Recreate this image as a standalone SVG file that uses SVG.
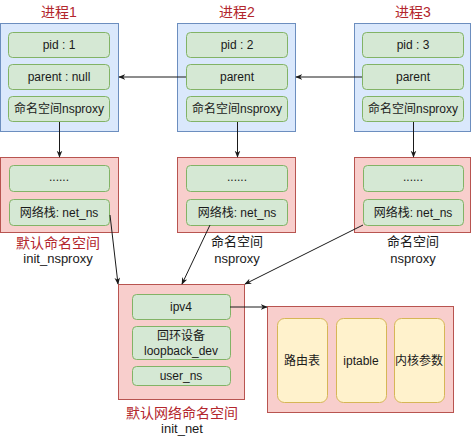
<svg xmlns="http://www.w3.org/2000/svg" width="474" height="438" viewBox="0 0 474 438">
<style>
.blue{fill:#dae8fc;stroke:#6c8ebf;stroke-width:1}
.pink{fill:#f8cecc;stroke:#b85450;stroke-width:1}
.green{fill:#d5e8d4;stroke:#82b366;stroke-width:1}
.yellow{fill:#fff2cc;stroke:#d6b656;stroke-width:1}
text{font-family:"Liberation Sans","Noto Sans CJK SC",sans-serif;text-anchor:middle;fill:#1a1a1a}
.t{font-size:12px}
.title{font-size:14px;fill:#b3262c}
.red{font-size:14px;fill:#b3262c}
.lbl{font-size:13px}
.conn line,.conn path{stroke:#1a1a1a;stroke-width:1;fill:none;marker-end:url(#ah)}
</style>
<defs>
<marker id="ah" viewBox="0 0 10 10" refX="9" refY="5" markerWidth="7" markerHeight="7" orient="auto" markerUnits="userSpaceOnUse">
<path d="M0,1 L10,5 L0,9 L3,5 Z" fill="#1a1a1a"/>
</marker>
</defs>
<rect width="474" height="438" fill="#ffffff"/>

<g id="proc1">
<text class="title" x="59" y="17">进程1</text>
<rect class="blue" x="0.5" y="23.5" width="118" height="108"/>
<rect class="green" x="8.5" y="32.5" width="101" height="25" rx="4"/>
<text class="t" x="59" y="49">pid : 1</text>
<rect class="green" x="8.5" y="64.5" width="101" height="25" rx="4"/>
<text class="t" x="59" y="81">parent : null</text>
<rect class="green" x="8.5" y="96.5" width="101" height="25" rx="4"/>
<text class="t" x="59" y="113">命名空间nsproxy</text>
</g>

<g id="proc2">
<text class="title" x="237" y="17">进程2</text>
<rect class="blue" x="177.5" y="23.5" width="118" height="108"/>
<rect class="green" x="186.5" y="32.5" width="101" height="25" rx="4"/>
<text class="t" x="237" y="49">pid : 2</text>
<rect class="green" x="186.5" y="64.5" width="101" height="25" rx="4"/>
<text class="t" x="237" y="81">parent</text>
<rect class="green" x="186.5" y="96.5" width="101" height="25" rx="4"/>
<text class="t" x="237" y="113">命名空间nsproxy</text>
</g>

<g id="proc3">
<text class="title" x="413" y="17">进程3</text>
<rect class="blue" x="354.5" y="23.5" width="116" height="108"/>
<rect class="green" x="362.5" y="32.5" width="101" height="25" rx="4"/>
<text class="t" x="413" y="49">pid : 3</text>
<rect class="green" x="362.5" y="64.5" width="101" height="25" rx="4"/>
<text class="t" x="413" y="81">parent</text>
<rect class="green" x="362.5" y="96.5" width="101" height="25" rx="4"/>
<text class="t" x="413" y="113">命名空间nsproxy</text>
</g>

<g id="ns1">
<rect class="pink" x="0.5" y="157.5" width="118" height="75"/>
<rect class="green" x="9.5" y="165.5" width="100" height="26" rx="4"/>
<text class="t" x="59" y="181">......</text>
<rect class="green" x="9.5" y="199.5" width="100" height="26" rx="4"/>
<text class="t" x="59" y="217">网络栈: net_ns</text>
<text class="red" x="58" y="248">默认命名空间</text>
<text class="lbl" x="58" y="263">init_nsproxy</text>
</g>

<g id="ns2">
<rect class="pink" x="177.5" y="157.5" width="118" height="75"/>
<rect class="green" x="186.5" y="165.5" width="101" height="26" rx="4"/>
<text class="t" x="237" y="181">......</text>
<rect class="green" x="186.5" y="199.5" width="101" height="26" rx="4"/>
<text class="t" x="237" y="217">网络栈: net_ns</text>
<text class="lbl" x="237" y="246">命名空间</text>
<text class="lbl" x="237" y="263">nsproxy</text>
</g>

<g id="ns3">
<rect class="pink" x="354.5" y="157.5" width="116" height="75"/>
<rect class="green" x="363.5" y="165.5" width="100" height="26" rx="4"/>
<text class="t" x="413" y="181">......</text>
<rect class="green" x="363.5" y="199.5" width="100" height="26" rx="4"/>
<text class="t" x="413" y="217">网络栈: net_ns</text>
<text class="lbl" x="413" y="246">命名空间</text>
<text class="lbl" x="413" y="263">nsproxy</text>
</g>

<g id="initnet">
<rect class="pink" x="118.5" y="284.5" width="126" height="115"/>
<rect class="green" x="132.5" y="294.5" width="98" height="25" rx="4"/>
<text class="t" x="181" y="311">ipv4</text>
<rect class="green" x="132.5" y="326.5" width="98" height="33" rx="4"/>
<text class="t" x="181" y="340">回环设备</text>
<text class="t" x="181" y="355">loopback_dev</text>
<rect class="green" x="132.5" y="366.5" width="98" height="19" rx="4"/>
<text class="t" x="181" y="380">user_ns</text>
<text class="red" x="182" y="418">默认网络命名空间</text>
<text class="lbl" x="182" y="433">init_net</text>
</g>

<g id="netstack">
<rect class="pink" x="267.5" y="306.5" width="186" height="106"/>
<rect class="yellow" x="277.5" y="318.5" width="50" height="84" rx="7"/>
<text class="t" x="302" y="365">路由表</text>
<rect class="yellow" x="336.5" y="318.5" width="50" height="84" rx="7"/>
<text class="t" x="361" y="365">iptable</text>
<rect class="yellow" x="394.5" y="318.5" width="50" height="84" rx="7"/>
<text class="t" x="419" y="365">内核参数</text>
</g>

<g class="conn">
<line x1="186" y1="77" x2="119" y2="77"/>
<line x1="362" y1="77" x2="296" y2="77"/>
<line x1="59.5" y1="122" x2="59.5" y2="157"/>
<line x1="237.5" y1="122" x2="237.5" y2="157"/>
<line x1="413.5" y1="122" x2="413.5" y2="157"/>
<line x1="110" y1="215" x2="118" y2="284"/>
<line x1="210" y1="225" x2="182" y2="284"/>
<line x1="363" y1="225" x2="245" y2="284"/>
<line x1="230" y1="307" x2="267" y2="307"/>
</g>
</svg>
